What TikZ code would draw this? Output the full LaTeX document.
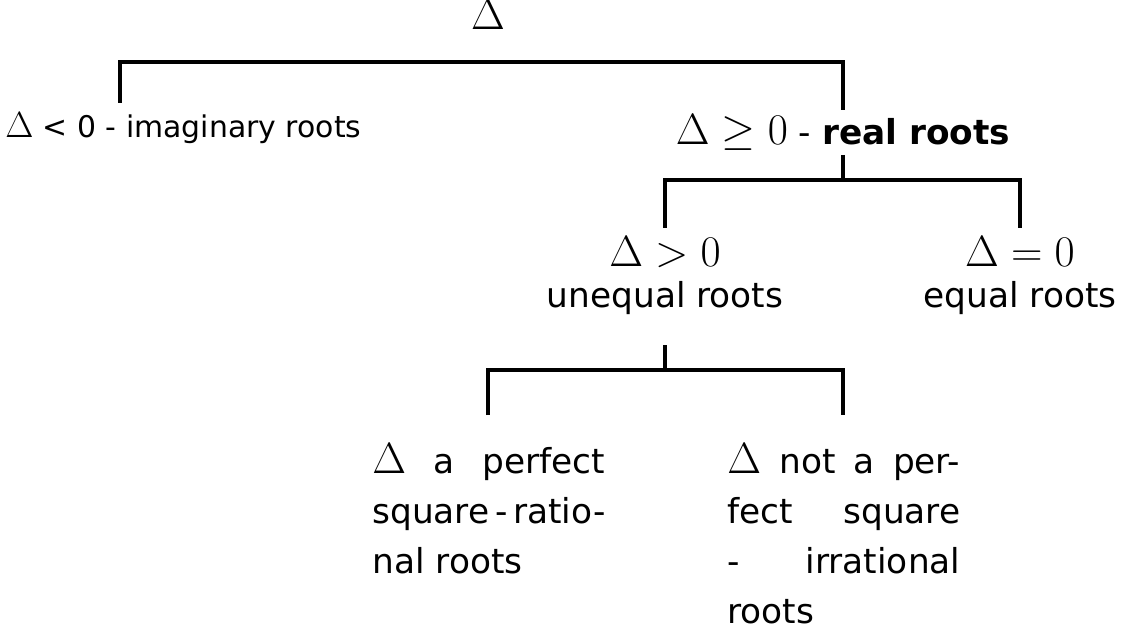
\documentclass[tikz,border=0pt]{standalone}
\usepackage{amsmath}
\usepackage{fontspec}
\setsansfont[Scale=0.85]{DejaVu Sans}
\begin{document}
\begin{tikzpicture}[x=0.02cm,y=-0.02cm,
  lbl/.style={font=\fontsize{23}{28.5}\selectfont\sffamily,inner sep=0pt},
  par/.style={lbl,text width=4.66cm,align=justify,anchor=north west},
  bar/.style={line width=2.2pt}]
\useasboundingbox (0,0) rectangle (1124,624);
\node[lbl] (delta) at (488,15) {$\Delta$};
\node[lbl,anchor=west,font=\fontsize{20}{25}\selectfont\sffamily] (neg) at (5,128) {$\Delta$ < 0 - imaginary roots};
\node[lbl] (pos) at (843,133) {$\Delta \geq 0$ - \textbf{real roots}};
\node[lbl] (gt) at (665,252) {$\Delta > 0$};
\node[lbl] (uneq) at (665,298) {unequal roots};
\node[lbl] (eq) at (1020,252) {$\Delta = 0$};
\node[lbl] (eqr) at (1020,298) {equal roots};
\node[par] (rat) at (372,443) {$\Delta$ a \mbox{perfect} square\,-\,ratio\-nal roots};
\node[par] (irr) at (727,443) {$\Delta$ not a per\-fect square - irrational roots};
% tree bars
\draw[bar] (120,103) -- (120,62) -- (843,62) -- (843,110);
\draw[bar] (843,155) -- (843,180);
\draw[bar] (665,228) -- (665,180) -- (1020,180) -- (1020,228);
\draw[bar] (665,345) -- (665,370);
\draw[bar] (488,415) -- (488,370) -- (843,370) -- (843,415);
\end{tikzpicture}
\end{document}
